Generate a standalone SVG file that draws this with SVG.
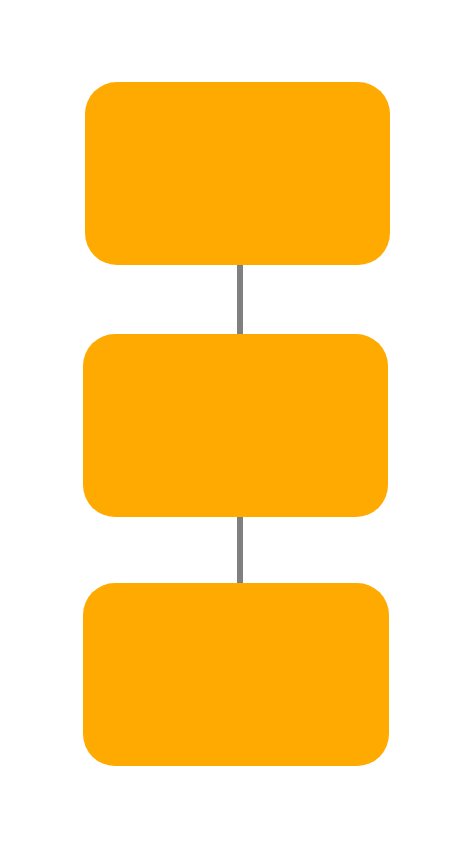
<svg xmlns="http://www.w3.org/2000/svg" width="474" height="853" viewBox="0 0 474 853">
<style>
.box{fill:#FFAA00;}
.link{stroke:#808080;stroke-width:6;fill:none;}
</style>
<rect width="474" height="853" fill="#ffffff"/>
<g id="connectors">
<line class="link" x1="240" y1="264" x2="240" y2="336"/>
<line class="link" x1="240" y1="516" x2="240" y2="585"/>
</g>
<g id="node1"><rect class="box" x="85" y="82" width="305" height="183" rx="32" ry="32"/></g>
<g id="node2"><rect class="box" x="83" y="334" width="305" height="183" rx="32" ry="32"/></g>
<g id="node3"><rect class="box" x="83" y="583" width="306" height="183" rx="32" ry="32"/></g>
</svg>
